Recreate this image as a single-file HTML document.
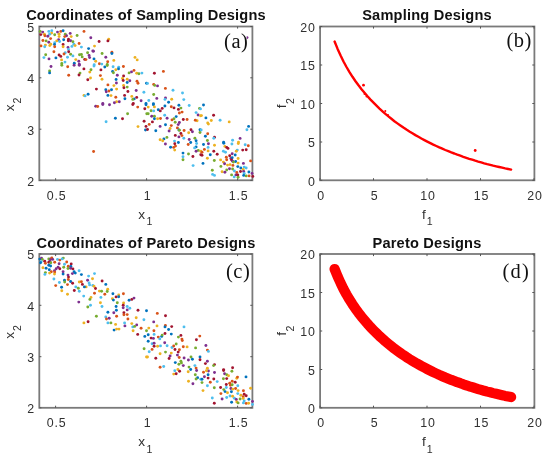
<!DOCTYPE html><html><head><meta charset="utf-8"><title>Sampling and Pareto Designs</title>
<style>html,body{margin:0;padding:0;background:#fff;}svg{display:block;}text{font-family:"Liberation Sans",Arial,sans-serif;fill:#303030;}.t{font-weight:bold;font-size:14.6px;letter-spacing:0.2px;fill:#111;}.k{font-size:12.4px;letter-spacing:0.9px;}.l{font-size:13.6px;}.s{font-size:10.6px;}.p{font-family:"Liberation Serif","Times New Roman",serif;font-size:20.5px;letter-spacing:0.5px;fill:#111;}</style></head><body>
<svg width="550" height="461" viewBox="0 0 550 461">
<rect width="550" height="461" fill="#fff"/>
<rect x="39.3" y="26.5" width="213.10000000000002" height="153.8" fill="none" stroke="#7a7a7a" stroke-width="1.8"/>
<path d="M55.6 180.3v-2.1M55.6 26.5v2.1" stroke="#555" stroke-width="1"/>
 <text class="k" x="56.7" y="199.8" text-anchor="middle">0.5</text>
<path d="M146.6 180.3v-2.1M146.6 26.5v2.1" stroke="#555" stroke-width="1"/>
 <text class="k" x="147.7" y="199.8" text-anchor="middle">1</text>
<path d="M237.6 180.3v-2.1M237.6 26.5v2.1" stroke="#555" stroke-width="1"/>
 <text class="k" x="238.7" y="199.8" text-anchor="middle">1.5</text>
<path d="M39.3 26.5h2.1M252.4 26.5h-2.1" stroke="#555" stroke-width="1"/>
<text class="k" x="35.099999999999994" y="31.8" text-anchor="end">5</text>
<path d="M39.3 77.8h2.1M252.4 77.8h-2.1" stroke="#555" stroke-width="1"/>
<text class="k" x="35.099999999999994" y="83.1" text-anchor="end">4</text>
<path d="M39.3 129.2h2.1M252.4 129.2h-2.1" stroke="#555" stroke-width="1"/>
<text class="k" x="35.099999999999994" y="134.5" text-anchor="end">3</text>
<path d="M39.3 180.3h2.1M252.4 180.3h-2.1" stroke="#555" stroke-width="1"/>
<text class="k" x="35.099999999999994" y="185.60000000000002" text-anchor="end">2</text>
<text class="t" x="146" y="20.1" text-anchor="middle">Coordinates of Sampling Designs</text>
<text class="l" x="145.15" y="218.9" text-anchor="end">x</text><text class="s" x="146.45" y="225.4">1</text>
<g transform="translate(13.6 103.4) rotate(-90)"><text class="l" x="-1" y="0" text-anchor="end">x</text><text class="s" x="0.0" y="7.2">2</text></g>
<circle cx="40.2" cy="31.4" r="1.45" fill="#77AC30"/>
<circle cx="42.7" cy="32.1" r="1.45" fill="#7E2F8E"/>
<circle cx="40.8" cy="34.6" r="1.45" fill="#A2142F"/>
<circle cx="44.4" cy="34.3" r="1.45" fill="#EDB120"/>
<circle cx="44.9" cy="35.8" r="1.45" fill="#D95319"/>
<circle cx="48.8" cy="31.4" r="1.45" fill="#4DBEEE"/>
<circle cx="51.8" cy="30.7" r="1.45" fill="#4DBEEE"/>
<circle cx="51.6" cy="33.1" r="1.45" fill="#EDB120"/>
<circle cx="49.6" cy="34.3" r="1.45" fill="#4DBEEE"/>
<circle cx="47.8" cy="36.3" r="1.45" fill="#7E2F8E"/>
<circle cx="50.6" cy="38.6" r="1.45" fill="#D95319"/>
<circle cx="54.7" cy="34.8" r="1.45" fill="#77AC30"/>
<circle cx="57.5" cy="32.1" r="1.45" fill="#7E2F8E"/>
<circle cx="60.8" cy="31.4" r="1.45" fill="#D95319"/>
<circle cx="63.1" cy="30.7" r="1.45" fill="#0072BD"/>
<circle cx="59.1" cy="34.3" r="1.45" fill="#EDB120"/>
<circle cx="59.1" cy="36.6" r="1.45" fill="#EDB120"/>
<circle cx="58.6" cy="39.7" r="1.45" fill="#7E2F8E"/>
<circle cx="59.6" cy="41.5" r="1.45" fill="#4DBEEE"/>
<circle cx="56.7" cy="40.9" r="1.45" fill="#EDB120"/>
<circle cx="42.9" cy="40.5" r="1.45" fill="#D95319"/>
<circle cx="46.1" cy="40.9" r="1.45" fill="#77AC30"/>
<circle cx="48.8" cy="42.2" r="1.45" fill="#7E2F8E"/>
<circle cx="50.8" cy="44.2" r="1.45" fill="#EDB120"/>
<circle cx="49.8" cy="45.6" r="1.45" fill="#EDB120"/>
<circle cx="54.7" cy="42.7" r="1.45" fill="#4DBEEE"/>
<circle cx="54.5" cy="44.5" r="1.45" fill="#0072BD"/>
<circle cx="54.7" cy="46.8" r="1.45" fill="#D95319"/>
<circle cx="41.0" cy="45.9" r="1.45" fill="#D95319"/>
<circle cx="45.4" cy="45.1" r="1.45" fill="#EDB120"/>
<circle cx="44.7" cy="46.8" r="1.45" fill="#4DBEEE"/>
<circle cx="65.3" cy="34.3" r="1.45" fill="#77AC30"/>
<circle cx="66.5" cy="35.8" r="1.45" fill="#7E2F8E"/>
<circle cx="64.7" cy="36.6" r="1.45" fill="#D95319"/>
<circle cx="63.7" cy="39.7" r="1.45" fill="#0072BD"/>
<circle cx="70.2" cy="33.4" r="1.45" fill="#7E2F8E"/>
<circle cx="71.2" cy="36.6" r="1.45" fill="#EDB120"/>
<circle cx="68.5" cy="39.3" r="1.45" fill="#A2142F"/>
<circle cx="68.3" cy="40.7" r="1.45" fill="#A2142F"/>
<circle cx="70.6" cy="40.7" r="1.45" fill="#7E2F8E"/>
<circle cx="72.9" cy="41.7" r="1.45" fill="#77AC30"/>
<circle cx="77.1" cy="35.5" r="1.45" fill="#77AC30"/>
<circle cx="84.0" cy="31.4" r="1.45" fill="#D95319"/>
<circle cx="90.8" cy="37.8" r="1.45" fill="#7E2F8E"/>
<circle cx="79.1" cy="43.5" r="1.45" fill="#D95319"/>
<circle cx="73.9" cy="44.2" r="1.45" fill="#4DBEEE"/>
<circle cx="75.1" cy="45.6" r="1.45" fill="#EDB120"/>
<circle cx="71.9" cy="46.4" r="1.45" fill="#4DBEEE"/>
<circle cx="81.4" cy="47.1" r="1.45" fill="#4DBEEE"/>
<circle cx="63.1" cy="44.5" r="1.45" fill="#A2142F"/>
<circle cx="63.1" cy="46.8" r="1.45" fill="#EDB120"/>
<circle cx="68.0" cy="47.4" r="1.45" fill="#7E2F8E"/>
<circle cx="68.5" cy="49.4" r="1.45" fill="#4DBEEE"/>
<circle cx="68.7" cy="51.7" r="1.45" fill="#A2142F"/>
<circle cx="65.3" cy="52.7" r="1.45" fill="#4DBEEE"/>
<circle cx="64.0" cy="54.0" r="1.45" fill="#D95319"/>
<circle cx="53.9" cy="51.7" r="1.45" fill="#D95319"/>
<circle cx="45.7" cy="54.7" r="1.45" fill="#77AC30"/>
<circle cx="43.9" cy="57.6" r="1.45" fill="#4DBEEE"/>
<circle cx="49.0" cy="58.9" r="1.45" fill="#7E2F8E"/>
<circle cx="55.9" cy="57.9" r="1.45" fill="#0072BD"/>
<circle cx="59.1" cy="55.0" r="1.45" fill="#A2142F"/>
<circle cx="60.8" cy="56.4" r="1.45" fill="#A2142F"/>
<circle cx="61.6" cy="59.9" r="1.45" fill="#EDB120"/>
<circle cx="67.5" cy="57.2" r="1.45" fill="#4DBEEE"/>
<circle cx="70.6" cy="54.3" r="1.45" fill="#77AC30"/>
<circle cx="72.9" cy="55.9" r="1.45" fill="#4DBEEE"/>
<circle cx="61.8" cy="63.5" r="1.45" fill="#77AC30"/>
<circle cx="65.0" cy="62.1" r="1.45" fill="#4DBEEE"/>
<circle cx="75.8" cy="59.6" r="1.45" fill="#EDB120"/>
<circle cx="78.8" cy="61.3" r="1.45" fill="#7E2F8E"/>
<circle cx="74.3" cy="63.3" r="1.45" fill="#0072BD"/>
<circle cx="79.3" cy="64.3" r="1.45" fill="#7E2F8E"/>
<circle cx="79.5" cy="54.7" r="1.45" fill="#77AC30"/>
<circle cx="81.4" cy="54.5" r="1.45" fill="#77AC30"/>
<circle cx="82.2" cy="56.9" r="1.45" fill="#77AC30"/>
<circle cx="84.7" cy="59.4" r="1.45" fill="#A2142F"/>
<circle cx="85.9" cy="59.6" r="1.45" fill="#D95319"/>
<circle cx="87.6" cy="52.7" r="1.45" fill="#77AC30"/>
<circle cx="89.1" cy="55.5" r="1.45" fill="#7E2F8E"/>
<circle cx="89.6" cy="57.6" r="1.45" fill="#7E2F8E"/>
<circle cx="88.6" cy="48.6" r="1.45" fill="#0072BD"/>
<circle cx="92.8" cy="51.0" r="1.45" fill="#7E2F8E"/>
<circle cx="99.1" cy="41.5" r="1.45" fill="#A2142F"/>
<circle cx="108.7" cy="39.3" r="1.45" fill="#EDB120"/>
<circle cx="107.9" cy="40.9" r="1.45" fill="#A2142F"/>
<circle cx="94.5" cy="46.1" r="1.45" fill="#EDB120"/>
<circle cx="93.5" cy="51.3" r="1.45" fill="#7E2F8E"/>
<circle cx="102.1" cy="53.5" r="1.45" fill="#77AC30"/>
<circle cx="111.9" cy="52.3" r="1.45" fill="#D95319"/>
<circle cx="111.9" cy="53.5" r="1.45" fill="#0072BD"/>
<circle cx="105.8" cy="57.2" r="1.45" fill="#7E2F8E"/>
<circle cx="94.0" cy="58.9" r="1.45" fill="#0072BD"/>
<circle cx="95.7" cy="61.3" r="1.45" fill="#EDB120"/>
<circle cx="113.8" cy="60.4" r="1.45" fill="#EDB120"/>
<circle cx="107.7" cy="61.8" r="1.45" fill="#D95319"/>
<circle cx="99.4" cy="63.8" r="1.45" fill="#D95319"/>
<circle cx="101.8" cy="64.1" r="1.45" fill="#4DBEEE"/>
<circle cx="107.2" cy="64.5" r="1.45" fill="#77AC30"/>
<circle cx="135.0" cy="57.4" r="1.45" fill="#EDB120"/>
<circle cx="137.2" cy="59.9" r="1.45" fill="#EDB120"/>
<circle cx="94.2" cy="64.8" r="1.45" fill="#4DBEEE"/>
<circle cx="51.0" cy="66.5" r="1.45" fill="#7E2F8E"/>
<circle cx="49.6" cy="70.9" r="1.45" fill="#77AC30"/>
<circle cx="49.6" cy="72.9" r="1.45" fill="#0072BD"/>
<circle cx="67.7" cy="66.8" r="1.45" fill="#D95319"/>
<circle cx="68.7" cy="75.3" r="1.45" fill="#D95319"/>
<circle cx="74.1" cy="65.3" r="1.45" fill="#7E2F8E"/>
<circle cx="79.3" cy="65.3" r="1.45" fill="#7E2F8E"/>
<circle cx="83.9" cy="68.9" r="1.45" fill="#A2142F"/>
<circle cx="80.0" cy="73.1" r="1.45" fill="#77AC30"/>
<circle cx="79.0" cy="75.0" r="1.45" fill="#A2142F"/>
<circle cx="91.0" cy="69.7" r="1.45" fill="#77AC30"/>
<circle cx="89.8" cy="72.1" r="1.45" fill="#EDB120"/>
<circle cx="90.5" cy="78.0" r="1.45" fill="#EDB120"/>
<circle cx="87.8" cy="79.7" r="1.45" fill="#A2142F"/>
<circle cx="84.0" cy="95.4" r="1.45" fill="#EDB120"/>
<circle cx="85.1" cy="95.9" r="1.45" fill="#4DBEEE"/>
<circle cx="88.1" cy="94.3" r="1.45" fill="#0072BD"/>
<circle cx="61.8" cy="65.2" r="1.45" fill="#77AC30"/>
<circle cx="94.0" cy="66.0" r="1.45" fill="#4DBEEE"/>
<circle cx="104.8" cy="67.0" r="1.45" fill="#0072BD"/>
<circle cx="107.2" cy="65.5" r="1.45" fill="#77AC30"/>
<circle cx="113.1" cy="66.8" r="1.45" fill="#4DBEEE"/>
<circle cx="118.7" cy="67.2" r="1.45" fill="#4DBEEE"/>
<circle cx="118.5" cy="68.9" r="1.45" fill="#0072BD"/>
<circle cx="115.8" cy="69.7" r="1.45" fill="#EDB120"/>
<circle cx="123.4" cy="66.5" r="1.45" fill="#D95319"/>
<circle cx="100.9" cy="69.9" r="1.45" fill="#A2142F"/>
<circle cx="112.6" cy="71.4" r="1.45" fill="#0072BD"/>
<circle cx="113.4" cy="72.7" r="1.45" fill="#77AC30"/>
<circle cx="100.4" cy="75.6" r="1.45" fill="#D95319"/>
<circle cx="102.0" cy="79.2" r="1.45" fill="#EDB120"/>
<circle cx="117.3" cy="75.3" r="1.45" fill="#7E2F8E"/>
<circle cx="116.1" cy="79.5" r="1.45" fill="#0072BD"/>
<circle cx="116.4" cy="83.0" r="1.45" fill="#7E2F8E"/>
<circle cx="113.9" cy="85.6" r="1.45" fill="#EDB120"/>
<circle cx="107.9" cy="84.9" r="1.45" fill="#D95319"/>
<circle cx="96.4" cy="89.1" r="1.45" fill="#A2142F"/>
<circle cx="105.8" cy="89.7" r="1.45" fill="#0072BD"/>
<circle cx="106.3" cy="91.7" r="1.45" fill="#7E2F8E"/>
<circle cx="109.0" cy="91.0" r="1.45" fill="#D95319"/>
<circle cx="111.5" cy="89.7" r="1.45" fill="#0072BD"/>
<circle cx="116.6" cy="89.1" r="1.45" fill="#EDB120"/>
<circle cx="107.9" cy="95.4" r="1.45" fill="#0072BD"/>
<circle cx="111.0" cy="95.6" r="1.45" fill="#EDB120"/>
<circle cx="115.8" cy="97.2" r="1.45" fill="#D95319"/>
<circle cx="123.6" cy="76.0" r="1.45" fill="#A2142F"/>
<circle cx="122.5" cy="78.5" r="1.45" fill="#EDB120"/>
<circle cx="123.2" cy="80.5" r="1.45" fill="#A2142F"/>
<circle cx="127.2" cy="79.2" r="1.45" fill="#EDB120"/>
<circle cx="129.8" cy="80.7" r="1.45" fill="#7E2F8E"/>
<circle cx="127.2" cy="82.5" r="1.45" fill="#0072BD"/>
<circle cx="123.6" cy="85.4" r="1.45" fill="#EDB120"/>
<circle cx="123.9" cy="87.8" r="1.45" fill="#A2142F"/>
<circle cx="127.2" cy="87.1" r="1.45" fill="#77AC30"/>
<circle cx="127.9" cy="91.5" r="1.45" fill="#A2142F"/>
<circle cx="124.6" cy="95.4" r="1.45" fill="#A2142F"/>
<circle cx="124.9" cy="98.7" r="1.45" fill="#0072BD"/>
<circle cx="129.1" cy="72.9" r="1.45" fill="#77AC30"/>
<circle cx="131.5" cy="71.9" r="1.45" fill="#7E2F8E"/>
<circle cx="134.0" cy="70.4" r="1.45" fill="#D95319"/>
<circle cx="136.7" cy="73.3" r="1.45" fill="#EDB120"/>
<circle cx="138.9" cy="73.8" r="1.45" fill="#77AC30"/>
<circle cx="141.9" cy="73.1" r="1.45" fill="#4DBEEE"/>
<circle cx="137.0" cy="81.2" r="1.45" fill="#D95319"/>
<circle cx="138.0" cy="83.2" r="1.45" fill="#D95319"/>
<circle cx="146.5" cy="83.2" r="1.45" fill="#0072BD"/>
<circle cx="136.2" cy="90.5" r="1.45" fill="#7E2F8E"/>
<circle cx="143.9" cy="92.3" r="1.45" fill="#4DBEEE"/>
<circle cx="131.8" cy="96.4" r="1.45" fill="#EDB120"/>
<circle cx="136.7" cy="97.4" r="1.45" fill="#A2142F"/>
<circle cx="134.2" cy="98.9" r="1.45" fill="#0072BD"/>
<circle cx="132.8" cy="99.4" r="1.45" fill="#77AC30"/>
<circle cx="141.1" cy="100.8" r="1.45" fill="#7E2F8E"/>
<circle cx="116.6" cy="101.8" r="1.45" fill="#EDB120"/>
<circle cx="114.4" cy="102.8" r="1.45" fill="#7E2F8E"/>
<circle cx="119.3" cy="101.8" r="1.45" fill="#7E2F8E"/>
<circle cx="102.8" cy="103.5" r="1.45" fill="#7E2F8E"/>
<circle cx="133.3" cy="103.5" r="1.45" fill="#A2142F"/>
<circle cx="146.0" cy="103.5" r="1.45" fill="#0072BD"/>
<circle cx="154.4" cy="73.3" r="1.45" fill="#A2142F"/>
<circle cx="163.4" cy="71.4" r="1.45" fill="#D95319"/>
<circle cx="147.5" cy="83.4" r="1.45" fill="#4DBEEE"/>
<circle cx="153.7" cy="84.4" r="1.45" fill="#D95319"/>
<circle cx="154.7" cy="85.4" r="1.45" fill="#77AC30"/>
<circle cx="157.5" cy="85.9" r="1.45" fill="#7E2F8E"/>
<circle cx="165.4" cy="88.4" r="1.45" fill="#D95319"/>
<circle cx="173.0" cy="90.3" r="1.45" fill="#4DBEEE"/>
<circle cx="182.5" cy="93.0" r="1.45" fill="#4DBEEE"/>
<circle cx="153.7" cy="94.5" r="1.45" fill="#77AC30"/>
<circle cx="156.8" cy="98.4" r="1.45" fill="#7E2F8E"/>
<circle cx="165.5" cy="97.9" r="1.45" fill="#7E2F8E"/>
<circle cx="165.0" cy="99.4" r="1.45" fill="#4DBEEE"/>
<circle cx="171.7" cy="99.2" r="1.45" fill="#EDB120"/>
<circle cx="183.8" cy="99.6" r="1.45" fill="#4DBEEE"/>
<circle cx="148.8" cy="100.5" r="1.45" fill="#4DBEEE"/>
<circle cx="168.6" cy="102.3" r="1.45" fill="#0072BD"/>
<circle cx="153.4" cy="103.8" r="1.45" fill="#0072BD"/>
<circle cx="95.7" cy="106.2" r="1.45" fill="#7E2F8E"/>
<circle cx="97.7" cy="106.5" r="1.45" fill="#D95319"/>
<circle cx="102.8" cy="104.5" r="1.45" fill="#7E2F8E"/>
<circle cx="109.5" cy="104.8" r="1.45" fill="#7E2F8E"/>
<circle cx="132.8" cy="104.5" r="1.45" fill="#A2142F"/>
<circle cx="137.7" cy="107.1" r="1.45" fill="#D95319"/>
<circle cx="144.8" cy="108.7" r="1.45" fill="#A2142F"/>
<circle cx="146.0" cy="104.8" r="1.45" fill="#0072BD"/>
<circle cx="127.6" cy="113.8" r="1.45" fill="#77AC30"/>
<circle cx="115.4" cy="118.2" r="1.45" fill="#0072BD"/>
<circle cx="122.5" cy="118.7" r="1.45" fill="#A2142F"/>
<circle cx="106.1" cy="121.7" r="1.45" fill="#4DBEEE"/>
<circle cx="144.1" cy="121.2" r="1.45" fill="#A2142F"/>
<circle cx="138.0" cy="126.6" r="1.45" fill="#EDB120"/>
<circle cx="146.0" cy="126.4" r="1.45" fill="#A2142F"/>
<circle cx="145.5" cy="130.0" r="1.45" fill="#0072BD"/>
<circle cx="146.8" cy="113.8" r="1.45" fill="#77AC30"/>
<circle cx="153.4" cy="104.8" r="1.45" fill="#0072BD"/>
<circle cx="148.2" cy="107.1" r="1.45" fill="#EDB120"/>
<circle cx="154.4" cy="106.9" r="1.45" fill="#EDB120"/>
<circle cx="151.1" cy="110.7" r="1.45" fill="#77AC30"/>
<circle cx="153.7" cy="110.9" r="1.45" fill="#4DBEEE"/>
<circle cx="148.2" cy="113.8" r="1.45" fill="#77AC30"/>
<circle cx="151.7" cy="116.3" r="1.45" fill="#7E2F8E"/>
<circle cx="154.4" cy="116.3" r="1.45" fill="#77AC30"/>
<circle cx="154.4" cy="118.7" r="1.45" fill="#0072BD"/>
<circle cx="157.6" cy="118.7" r="1.45" fill="#EDB120"/>
<circle cx="160.5" cy="118.5" r="1.45" fill="#D95319"/>
<circle cx="152.4" cy="121.9" r="1.45" fill="#A2142F"/>
<circle cx="149.2" cy="124.4" r="1.45" fill="#D95319"/>
<circle cx="147.5" cy="129.5" r="1.45" fill="#A2142F"/>
<circle cx="155.8" cy="130.7" r="1.45" fill="#0072BD"/>
<circle cx="160.1" cy="126.4" r="1.45" fill="#7E2F8E"/>
<circle cx="165.5" cy="124.8" r="1.45" fill="#0072BD"/>
<circle cx="164.7" cy="115.3" r="1.45" fill="#4DBEEE"/>
<circle cx="167.1" cy="118.2" r="1.45" fill="#7E2F8E"/>
<circle cx="158.3" cy="109.7" r="1.45" fill="#0072BD"/>
<circle cx="160.3" cy="110.9" r="1.45" fill="#A2142F"/>
<circle cx="162.2" cy="108.4" r="1.45" fill="#A2142F"/>
<circle cx="164.9" cy="106.0" r="1.45" fill="#0072BD"/>
<circle cx="171.3" cy="106.7" r="1.45" fill="#D95319"/>
<circle cx="174.0" cy="107.9" r="1.45" fill="#A2142F"/>
<circle cx="178.9" cy="105.2" r="1.45" fill="#0072BD"/>
<circle cx="180.9" cy="108.1" r="1.45" fill="#77AC30"/>
<circle cx="178.4" cy="109.4" r="1.45" fill="#A2142F"/>
<circle cx="179.4" cy="113.0" r="1.45" fill="#D95319"/>
<circle cx="182.1" cy="112.1" r="1.45" fill="#D95319"/>
<circle cx="189.2" cy="105.5" r="1.45" fill="#4DBEEE"/>
<circle cx="176.2" cy="116.6" r="1.45" fill="#0072BD"/>
<circle cx="174.0" cy="118.7" r="1.45" fill="#77AC30"/>
<circle cx="172.0" cy="119.9" r="1.45" fill="#D95319"/>
<circle cx="175.2" cy="122.2" r="1.45" fill="#77AC30"/>
<circle cx="183.3" cy="119.5" r="1.45" fill="#A2142F"/>
<circle cx="187.1" cy="119.5" r="1.45" fill="#D95319"/>
<circle cx="179.4" cy="122.5" r="1.45" fill="#7E2F8E"/>
<circle cx="178.2" cy="124.6" r="1.45" fill="#7E2F8E"/>
<circle cx="171.3" cy="125.6" r="1.45" fill="#D95319"/>
<circle cx="170.1" cy="128.5" r="1.45" fill="#EDB120"/>
<circle cx="169.1" cy="131.0" r="1.45" fill="#7E2F8E"/>
<circle cx="177.4" cy="127.9" r="1.45" fill="#D95319"/>
<circle cx="178.9" cy="130.0" r="1.45" fill="#0072BD"/>
<circle cx="179.4" cy="130.3" r="1.45" fill="#77AC30"/>
<circle cx="184.1" cy="130.5" r="1.45" fill="#D95319"/>
<circle cx="188.7" cy="132.7" r="1.45" fill="#EDB120"/>
<circle cx="191.0" cy="129.7" r="1.45" fill="#A2142F"/>
<circle cx="192.4" cy="131.7" r="1.45" fill="#7E2F8E"/>
<circle cx="180.9" cy="133.5" r="1.45" fill="#A2142F"/>
<circle cx="181.9" cy="135.6" r="1.45" fill="#D95319"/>
<circle cx="178.9" cy="136.9" r="1.45" fill="#7E2F8E"/>
<circle cx="175.3" cy="135.4" r="1.45" fill="#A2142F"/>
<circle cx="183.8" cy="138.2" r="1.45" fill="#4DBEEE"/>
<circle cx="189.2" cy="139.5" r="1.45" fill="#7E2F8E"/>
<circle cx="194.9" cy="138.2" r="1.45" fill="#77AC30"/>
<circle cx="196.1" cy="140.8" r="1.45" fill="#0072BD"/>
<circle cx="166.9" cy="137.4" r="1.45" fill="#77AC30"/>
<circle cx="163.9" cy="138.9" r="1.45" fill="#0072BD"/>
<circle cx="160.1" cy="139.8" r="1.45" fill="#EDB120"/>
<circle cx="162.7" cy="140.8" r="1.45" fill="#EDB120"/>
<circle cx="174.5" cy="141.1" r="1.45" fill="#4DBEEE"/>
<circle cx="178.4" cy="142.5" r="1.45" fill="#0072BD"/>
<circle cx="200.0" cy="129.7" r="1.45" fill="#0072BD"/>
<circle cx="200.0" cy="132.5" r="1.45" fill="#77AC30"/>
<circle cx="197.1" cy="120.7" r="1.45" fill="#EDB120"/>
<circle cx="195.3" cy="120.2" r="1.45" fill="#D95319"/>
<circle cx="198.1" cy="115.0" r="1.45" fill="#7E2F8E"/>
<circle cx="200.5" cy="115.8" r="1.45" fill="#EDB120"/>
<circle cx="196.1" cy="112.6" r="1.45" fill="#4DBEEE"/>
<circle cx="199.5" cy="108.4" r="1.45" fill="#77AC30"/>
<circle cx="200.5" cy="108.9" r="1.45" fill="#4DBEEE"/>
<circle cx="190.7" cy="142.5" r="1.45" fill="#0072BD"/>
<circle cx="203.5" cy="105.0" r="1.45" fill="#0072BD"/>
<circle cx="201.5" cy="115.6" r="1.45" fill="#EDB120"/>
<circle cx="213.6" cy="115.3" r="1.45" fill="#A2142F"/>
<circle cx="205.9" cy="117.9" r="1.45" fill="#0072BD"/>
<circle cx="211.3" cy="120.5" r="1.45" fill="#EDB120"/>
<circle cx="207.7" cy="122.9" r="1.45" fill="#EDB120"/>
<circle cx="208.4" cy="124.1" r="1.45" fill="#EDB120"/>
<circle cx="220.1" cy="120.2" r="1.45" fill="#4DBEEE"/>
<circle cx="229.2" cy="121.9" r="1.45" fill="#EDB120"/>
<circle cx="248.6" cy="126.4" r="1.45" fill="#0072BD"/>
<circle cx="246.9" cy="129.7" r="1.45" fill="#4DBEEE"/>
<circle cx="207.7" cy="133.7" r="1.45" fill="#D95319"/>
<circle cx="205.4" cy="136.2" r="1.45" fill="#0072BD"/>
<circle cx="214.5" cy="137.2" r="1.45" fill="#A2142F"/>
<circle cx="213.8" cy="138.2" r="1.45" fill="#4DBEEE"/>
<circle cx="207.4" cy="140.5" r="1.45" fill="#77AC30"/>
<circle cx="232.6" cy="140.3" r="1.45" fill="#4DBEEE"/>
<circle cx="240.1" cy="138.4" r="1.45" fill="#7E2F8E"/>
<circle cx="238.5" cy="142.1" r="1.45" fill="#EDB120"/>
<circle cx="223.6" cy="142.3" r="1.45" fill="#0072BD"/>
<circle cx="201.2" cy="130.0" r="1.45" fill="#4DBEEE"/>
<circle cx="165.4" cy="144.0" r="1.45" fill="#7E2F8E"/>
<circle cx="174.8" cy="143.8" r="1.45" fill="#A2142F"/>
<circle cx="175.5" cy="146.1" r="1.45" fill="#D95319"/>
<circle cx="173.7" cy="147.4" r="1.45" fill="#D95319"/>
<circle cx="170.6" cy="147.2" r="1.45" fill="#0072BD"/>
<circle cx="174.7" cy="150.1" r="1.45" fill="#EDB120"/>
<circle cx="188.2" cy="144.5" r="1.45" fill="#D95319"/>
<circle cx="196.6" cy="143.5" r="1.45" fill="#4DBEEE"/>
<circle cx="196.1" cy="146.9" r="1.45" fill="#0072BD"/>
<circle cx="194.6" cy="147.9" r="1.45" fill="#4DBEEE"/>
<circle cx="198.3" cy="150.4" r="1.45" fill="#77AC30"/>
<circle cx="196.1" cy="151.3" r="1.45" fill="#7E2F8E"/>
<circle cx="183.0" cy="153.1" r="1.45" fill="#0072BD"/>
<circle cx="183.0" cy="156.7" r="1.45" fill="#4DBEEE"/>
<circle cx="183.0" cy="159.7" r="1.45" fill="#77AC30"/>
<circle cx="188.5" cy="154.0" r="1.45" fill="#77AC30"/>
<circle cx="192.9" cy="156.5" r="1.45" fill="#A2142F"/>
<circle cx="193.1" cy="165.6" r="1.45" fill="#4DBEEE"/>
<circle cx="200.8" cy="154.8" r="1.45" fill="#A2142F"/>
<circle cx="200.8" cy="151.3" r="1.45" fill="#EDB120"/>
<circle cx="203.5" cy="144.5" r="1.45" fill="#0072BD"/>
<circle cx="208.4" cy="143.8" r="1.45" fill="#7E2F8E"/>
<circle cx="208.1" cy="147.4" r="1.45" fill="#4DBEEE"/>
<circle cx="214.5" cy="145.2" r="1.45" fill="#EDB120"/>
<circle cx="204.4" cy="149.4" r="1.45" fill="#D95319"/>
<circle cx="208.1" cy="150.9" r="1.45" fill="#EDB120"/>
<circle cx="202.0" cy="152.3" r="1.45" fill="#D95319"/>
<circle cx="202.0" cy="155.3" r="1.45" fill="#A2142F"/>
<circle cx="210.3" cy="154.8" r="1.45" fill="#0072BD"/>
<circle cx="213.8" cy="151.3" r="1.45" fill="#A2142F"/>
<circle cx="217.2" cy="154.3" r="1.45" fill="#A2142F"/>
<circle cx="207.4" cy="158.2" r="1.45" fill="#EDB120"/>
<circle cx="203.0" cy="163.4" r="1.45" fill="#0072BD"/>
<circle cx="214.3" cy="160.5" r="1.45" fill="#77AC30"/>
<circle cx="220.6" cy="159.9" r="1.45" fill="#EDB120"/>
<circle cx="220.9" cy="166.4" r="1.45" fill="#77AC30"/>
<circle cx="212.3" cy="170.3" r="1.45" fill="#77AC30"/>
<circle cx="212.6" cy="174.4" r="1.45" fill="#4DBEEE"/>
<circle cx="214.5" cy="175.4" r="1.45" fill="#4DBEEE"/>
<circle cx="222.1" cy="171.7" r="1.45" fill="#EDB120"/>
<circle cx="224.9" cy="172.3" r="1.45" fill="#7E2F8E"/>
<circle cx="226.7" cy="170.0" r="1.45" fill="#77AC30"/>
<circle cx="224.9" cy="146.4" r="1.45" fill="#EDB120"/>
<circle cx="226.7" cy="147.4" r="1.45" fill="#A2142F"/>
<circle cx="228.0" cy="148.4" r="1.45" fill="#A2142F"/>
<circle cx="223.4" cy="151.3" r="1.45" fill="#4DBEEE"/>
<circle cx="225.5" cy="152.3" r="1.45" fill="#4DBEEE"/>
<circle cx="232.2" cy="153.8" r="1.45" fill="#7E2F8E"/>
<circle cx="235.2" cy="155.0" r="1.45" fill="#0072BD"/>
<circle cx="229.7" cy="155.8" r="1.45" fill="#A2142F"/>
<circle cx="226.3" cy="157.2" r="1.45" fill="#D95319"/>
<circle cx="226.7" cy="159.7" r="1.45" fill="#D95319"/>
<circle cx="230.9" cy="158.5" r="1.45" fill="#7E2F8E"/>
<circle cx="232.2" cy="157.7" r="1.45" fill="#0072BD"/>
<circle cx="231.6" cy="159.9" r="1.45" fill="#A2142F"/>
<circle cx="232.6" cy="161.2" r="1.45" fill="#7E2F8E"/>
<circle cx="235.6" cy="161.5" r="1.45" fill="#0072BD"/>
<circle cx="233.4" cy="162.1" r="1.45" fill="#77AC30"/>
<circle cx="238.1" cy="158.5" r="1.45" fill="#EDB120"/>
<circle cx="238.1" cy="163.1" r="1.45" fill="#EDB120"/>
<circle cx="237.3" cy="150.1" r="1.45" fill="#4DBEEE"/>
<circle cx="236.3" cy="151.3" r="1.45" fill="#EDB120"/>
<circle cx="242.7" cy="150.1" r="1.45" fill="#A2142F"/>
<circle cx="246.2" cy="149.7" r="1.45" fill="#A2142F"/>
<circle cx="245.2" cy="144.8" r="1.45" fill="#4DBEEE"/>
<circle cx="248.3" cy="145.7" r="1.45" fill="#D95319"/>
<circle cx="231.9" cy="144.0" r="1.45" fill="#4DBEEE"/>
<circle cx="250.6" cy="160.9" r="1.45" fill="#D95319"/>
<circle cx="243.4" cy="163.4" r="1.45" fill="#7E2F8E"/>
<circle cx="223.4" cy="162.1" r="1.45" fill="#EDB120"/>
<circle cx="224.6" cy="163.8" r="1.45" fill="#7E2F8E"/>
<circle cx="227.5" cy="165.1" r="1.45" fill="#EDB120"/>
<circle cx="230.0" cy="164.6" r="1.45" fill="#EDB120"/>
<circle cx="232.9" cy="165.4" r="1.45" fill="#D95319"/>
<circle cx="229.5" cy="168.7" r="1.45" fill="#7E2F8E"/>
<circle cx="232.6" cy="169.0" r="1.45" fill="#77AC30"/>
<circle cx="234.4" cy="171.0" r="1.45" fill="#4DBEEE"/>
<circle cx="237.8" cy="166.6" r="1.45" fill="#0072BD"/>
<circle cx="240.8" cy="168.0" r="1.45" fill="#0072BD"/>
<circle cx="244.2" cy="167.1" r="1.45" fill="#4DBEEE"/>
<circle cx="246.2" cy="168.0" r="1.45" fill="#4DBEEE"/>
<circle cx="243.2" cy="169.5" r="1.45" fill="#EDB120"/>
<circle cx="243.7" cy="171.5" r="1.45" fill="#7E2F8E"/>
<circle cx="240.5" cy="171.5" r="1.45" fill="#A2142F"/>
<circle cx="236.8" cy="172.5" r="1.45" fill="#D95319"/>
<circle cx="244.2" cy="173.4" r="1.45" fill="#4DBEEE"/>
<circle cx="248.9" cy="172.0" r="1.45" fill="#0072BD"/>
<circle cx="252.1" cy="173.4" r="1.45" fill="#7E2F8E"/>
<circle cx="231.6" cy="174.9" r="1.45" fill="#77AC30"/>
<circle cx="235.9" cy="174.9" r="1.45" fill="#7E2F8E"/>
<circle cx="237.8" cy="174.9" r="1.45" fill="#A2142F"/>
<circle cx="234.2" cy="176.9" r="1.45" fill="#4DBEEE"/>
<circle cx="238.1" cy="177.2" r="1.45" fill="#77AC30"/>
<circle cx="243.7" cy="175.4" r="1.45" fill="#0072BD"/>
<circle cx="246.2" cy="175.9" r="1.45" fill="#77AC30"/>
<circle cx="249.1" cy="175.9" r="1.45" fill="#D95319"/>
<circle cx="252.8" cy="176.4" r="1.45" fill="#A2142F"/>
<circle cx="238.3" cy="143.5" r="1.45" fill="#EDB120"/>
<circle cx="223.8" cy="143.3" r="1.45" fill="#0072BD"/>
<circle cx="93.6" cy="151.5" r="1.45" fill="#D95319"/>
<circle cx="247.0" cy="37.6" r="1.45" fill="#7E2F8E"/>
<rect x="219" y="30.5" width="27.6" height="26" fill="#fff"/>
<text class="p" style="letter-spacing:0.5px" x="236.2" y="48.4" text-anchor="middle">(a)</text>
<rect x="320.1" y="26.5" width="214.29999999999995" height="153.8" fill="none" stroke="#7a7a7a" stroke-width="1.8"/>
<path d="M320 180.3v-2.1M320 26.5v2.1" stroke="#555" stroke-width="1"/>
 <text class="k" x="321.1" y="199.8" text-anchor="middle">0</text>
<path d="M373.5 180.3v-2.1M373.5 26.5v2.1" stroke="#555" stroke-width="1"/>
 <text class="k" x="374.6" y="199.8" text-anchor="middle">5</text>
<path d="M427 180.3v-2.1M427 26.5v2.1" stroke="#555" stroke-width="1"/>
 <text class="k" x="428.1" y="199.8" text-anchor="middle">10</text>
<path d="M480.5 180.3v-2.1M480.5 26.5v2.1" stroke="#555" stroke-width="1"/>
 <text class="k" x="481.6" y="199.8" text-anchor="middle">15</text>
<path d="M534 180.3v-2.1M534 26.5v2.1" stroke="#555" stroke-width="1"/>
 <text class="k" x="535.1" y="199.8" text-anchor="middle">20</text>
<path d="M320.1 26.5h2.1M534.4 26.5h-2.1" stroke="#555" stroke-width="1"/>
<text class="k" x="315.90000000000003" y="31.8" text-anchor="end">20</text>
<path d="M320.1 65h2.1M534.4 65h-2.1" stroke="#555" stroke-width="1"/>
<text class="k" x="315.90000000000003" y="70.3" text-anchor="end">15</text>
<path d="M320.1 103.5h2.1M534.4 103.5h-2.1" stroke="#555" stroke-width="1"/>
<text class="k" x="315.90000000000003" y="108.8" text-anchor="end">10</text>
<path d="M320.1 142h2.1M534.4 142h-2.1" stroke="#555" stroke-width="1"/>
<text class="k" x="315.90000000000003" y="147.3" text-anchor="end">5</text>
<path d="M320.1 180.3h2.1M534.4 180.3h-2.1" stroke="#555" stroke-width="1"/>
<text class="k" x="315.90000000000003" y="185.60000000000002" text-anchor="end">0</text>
<text class="t" x="427" y="20.1" text-anchor="middle">Sampling Designs</text>
<text class="l" x="425.75" y="218.9" text-anchor="end">f</text><text class="s" x="426.85" y="225.4">1</text>
<g transform="translate(286.4 103.4) rotate(-90)"><text class="l" x="-1" y="0" text-anchor="end">f</text><text class="s" x="-0.5" y="7.2">2</text></g>
<path d="M334.6 41.5 L337.6 48.9 L340.6 55.5 L343.5 61.5 L346.5 67.0 L349.5 72.1 L352.5 76.8 L355.5 81.2 L358.5 85.3 L361.5 89.2 L364.5 92.8 L367.5 96.3 L370.5 99.6 L373.5 102.7 L376.5 105.7 L379.5 108.6 L382.5 111.3 L385.4 113.9 L388.4 116.4 L391.4 118.8 L394.4 121.2 L397.4 123.4 L400.4 125.5 L403.4 127.6 L406.4 129.6 L409.4 131.5 L412.4 133.3 L415.4 135.1 L418.4 136.8 L421.4 138.5 L424.4 140.1 L427.3 141.6 L430.3 143.1 L433.3 144.6 L436.3 146.0 L439.3 147.4 L442.3 148.7 L445.3 150.0 L448.3 151.2 L451.3 152.4 L454.3 153.5 L457.3 154.7 L460.3 155.7 L463.3 156.8 L466.3 157.8 L469.2 158.8 L472.2 159.7 L475.2 160.7 L478.2 161.6 L481.2 162.4 L484.2 163.3 L487.2 164.1 L490.2 164.8 L493.2 165.6 L496.2 166.3 L499.2 167.0 L502.2 167.7 L505.2 168.4 L508.2 169.0 L511.1 169.6" fill="none" stroke="#FF0000" stroke-width="2.4" stroke-linecap="round" stroke-linejoin="round"/>
<circle cx="363.5" cy="85.2" r="1.4" fill="#FF0000"/>
<circle cx="475.2" cy="150.5" r="1.4" fill="#FF0000"/>
<circle cx="364.6" cy="94" r="1.1" fill="#FF0000"/>
<circle cx="366.5" cy="96.5" r="1.0" fill="#FF0000"/>
<circle cx="385.3" cy="111" r="1.0" fill="#FF0000"/>
<circle cx="388" cy="115" r="1.0" fill="#FF0000"/>
<rect x="501.9" y="29.5" width="27.6" height="26" fill="#fff"/>
<text class="p" style="letter-spacing:0.5px" x="519.1" y="47.4" text-anchor="middle">(b)</text>
<rect x="39.3" y="254" width="213.10000000000002" height="153.8" fill="none" stroke="#7a7a7a" stroke-width="1.8"/>
<path d="M55.6 407.8v-2.1M55.6 254v2.1" stroke="#555" stroke-width="1"/>
 <text class="k" x="56.7" y="427.3" text-anchor="middle">0.5</text>
<path d="M146.6 407.8v-2.1M146.6 254v2.1" stroke="#555" stroke-width="1"/>
 <text class="k" x="147.7" y="427.3" text-anchor="middle">1</text>
<path d="M237.6 407.8v-2.1M237.6 254v2.1" stroke="#555" stroke-width="1"/>
 <text class="k" x="238.7" y="427.3" text-anchor="middle">1.5</text>
<path d="M39.3 254.0h2.1M252.4 254.0h-2.1" stroke="#555" stroke-width="1"/>
<text class="k" x="35.099999999999994" y="259.3" text-anchor="end">5</text>
<path d="M39.3 305.3h2.1M252.4 305.3h-2.1" stroke="#555" stroke-width="1"/>
<text class="k" x="35.099999999999994" y="310.6" text-anchor="end">4</text>
<path d="M39.3 356.7h2.1M252.4 356.7h-2.1" stroke="#555" stroke-width="1"/>
<text class="k" x="35.099999999999994" y="362.0" text-anchor="end">3</text>
<path d="M39.3 407.8h2.1M252.4 407.8h-2.1" stroke="#555" stroke-width="1"/>
<text class="k" x="35.099999999999994" y="413.1" text-anchor="end">2</text>
<text class="t" x="146" y="247.6" text-anchor="middle">Coordinates of Pareto Designs</text>
<text class="l" x="145.15" y="446.40000000000003" text-anchor="end">x</text><text class="s" x="146.45" y="452.90000000000003">1</text>
<g transform="translate(13.6 330.9) rotate(-90)"><text class="l" x="-1" y="0" text-anchor="end">x</text><text class="s" x="0.0" y="7.2">2</text></g>
<circle cx="39.8" cy="259.1" r="1.45" fill="#0072BD"/>
<circle cx="41.5" cy="258.1" r="1.45" fill="#7E2F8E"/>
<circle cx="42.4" cy="259.4" r="1.45" fill="#77AC30"/>
<circle cx="41.2" cy="261.8" r="1.45" fill="#4DBEEE"/>
<circle cx="40.5" cy="262.8" r="1.45" fill="#0072BD"/>
<circle cx="44.7" cy="261.3" r="1.45" fill="#A2142F"/>
<circle cx="45.4" cy="263.3" r="1.45" fill="#D95319"/>
<circle cx="42.9" cy="267.7" r="1.45" fill="#EDB120"/>
<circle cx="46.1" cy="268.2" r="1.45" fill="#0072BD"/>
<circle cx="48.8" cy="258.9" r="1.45" fill="#77AC30"/>
<circle cx="50.8" cy="258.9" r="1.45" fill="#7E2F8E"/>
<circle cx="51.8" cy="257.9" r="1.45" fill="#D95319"/>
<circle cx="50.0" cy="260.9" r="1.45" fill="#7E2F8E"/>
<circle cx="48.8" cy="262.3" r="1.45" fill="#A2142F"/>
<circle cx="50.8" cy="262.8" r="1.45" fill="#77AC30"/>
<circle cx="48.8" cy="265.3" r="1.45" fill="#0072BD"/>
<circle cx="50.6" cy="266.0" r="1.45" fill="#0072BD"/>
<circle cx="49.3" cy="269.7" r="1.45" fill="#0072BD"/>
<circle cx="52.7" cy="259.4" r="1.45" fill="#7E2F8E"/>
<circle cx="54.7" cy="262.3" r="1.45" fill="#D95319"/>
<circle cx="57.5" cy="259.4" r="1.45" fill="#4DBEEE"/>
<circle cx="59.8" cy="260.1" r="1.45" fill="#D95319"/>
<circle cx="63.3" cy="258.1" r="1.45" fill="#77AC30"/>
<circle cx="62.1" cy="258.9" r="1.45" fill="#4DBEEE"/>
<circle cx="59.1" cy="263.8" r="1.45" fill="#7E2F8E"/>
<circle cx="58.1" cy="267.2" r="1.45" fill="#7E2F8E"/>
<circle cx="56.2" cy="268.7" r="1.45" fill="#7E2F8E"/>
<circle cx="59.8" cy="268.7" r="1.45" fill="#A2142F"/>
<circle cx="54.5" cy="270.7" r="1.45" fill="#7E2F8E"/>
<circle cx="51.3" cy="271.7" r="1.45" fill="#D95319"/>
<circle cx="54.7" cy="272.1" r="1.45" fill="#D95319"/>
<circle cx="49.6" cy="273.1" r="1.45" fill="#EDB120"/>
<circle cx="54.5" cy="274.1" r="1.45" fill="#EDB120"/>
<circle cx="45.4" cy="272.6" r="1.45" fill="#77AC30"/>
<circle cx="44.9" cy="274.4" r="1.45" fill="#4DBEEE"/>
<circle cx="66.7" cy="262.0" r="1.45" fill="#D95319"/>
<circle cx="64.5" cy="264.3" r="1.45" fill="#4DBEEE"/>
<circle cx="63.7" cy="267.2" r="1.45" fill="#77AC30"/>
<circle cx="71.2" cy="264.0" r="1.45" fill="#A2142F"/>
<circle cx="68.3" cy="266.3" r="1.45" fill="#D95319"/>
<circle cx="70.9" cy="266.5" r="1.45" fill="#0072BD"/>
<circle cx="68.0" cy="268.5" r="1.45" fill="#77AC30"/>
<circle cx="70.6" cy="268.2" r="1.45" fill="#7E2F8E"/>
<circle cx="72.9" cy="268.9" r="1.45" fill="#A2142F"/>
<circle cx="63.1" cy="271.7" r="1.45" fill="#7E2F8E"/>
<circle cx="63.1" cy="274.1" r="1.45" fill="#0072BD"/>
<circle cx="74.1" cy="271.7" r="1.45" fill="#0072BD"/>
<circle cx="75.3" cy="273.1" r="1.45" fill="#0072BD"/>
<circle cx="72.4" cy="273.6" r="1.45" fill="#7E2F8E"/>
<circle cx="79.1" cy="270.7" r="1.45" fill="#4DBEEE"/>
<circle cx="81.4" cy="274.6" r="1.45" fill="#0072BD"/>
<circle cx="68.0" cy="275.1" r="1.45" fill="#7E2F8E"/>
<circle cx="68.5" cy="277.1" r="1.45" fill="#A2142F"/>
<circle cx="68.3" cy="279.5" r="1.45" fill="#D95319"/>
<circle cx="53.9" cy="279.0" r="1.45" fill="#4DBEEE"/>
<circle cx="64.5" cy="280.3" r="1.45" fill="#0072BD"/>
<circle cx="64.7" cy="282.0" r="1.45" fill="#77AC30"/>
<circle cx="59.4" cy="282.5" r="1.45" fill="#4DBEEE"/>
<circle cx="70.6" cy="281.5" r="1.45" fill="#0072BD"/>
<circle cx="72.6" cy="283.2" r="1.45" fill="#A2142F"/>
<circle cx="67.5" cy="284.6" r="1.45" fill="#D95319"/>
<circle cx="55.7" cy="285.6" r="1.45" fill="#D95319"/>
<circle cx="61.6" cy="287.2" r="1.45" fill="#0072BD"/>
<circle cx="61.8" cy="290.8" r="1.45" fill="#EDB120"/>
<circle cx="88.6" cy="276.1" r="1.45" fill="#4DBEEE"/>
<circle cx="87.6" cy="280.3" r="1.45" fill="#7E2F8E"/>
<circle cx="92.5" cy="278.7" r="1.45" fill="#EDB120"/>
<circle cx="79.3" cy="282.0" r="1.45" fill="#EDB120"/>
<circle cx="81.4" cy="281.7" r="1.45" fill="#D95319"/>
<circle cx="82.4" cy="284.4" r="1.45" fill="#A2142F"/>
<circle cx="89.1" cy="282.9" r="1.45" fill="#4DBEEE"/>
<circle cx="89.6" cy="284.9" r="1.45" fill="#4DBEEE"/>
<circle cx="86.1" cy="286.9" r="1.45" fill="#EDB120"/>
<circle cx="84.4" cy="286.9" r="1.45" fill="#0072BD"/>
<circle cx="75.8" cy="286.9" r="1.45" fill="#4DBEEE"/>
<circle cx="78.3" cy="288.3" r="1.45" fill="#77AC30"/>
<circle cx="74.3" cy="290.5" r="1.45" fill="#A2142F"/>
<circle cx="79.3" cy="291.3" r="1.45" fill="#4DBEEE"/>
<circle cx="92.8" cy="285.4" r="1.45" fill="#4DBEEE"/>
<circle cx="94.5" cy="273.6" r="1.45" fill="#4DBEEE"/>
<circle cx="102.1" cy="281.0" r="1.45" fill="#A2142F"/>
<circle cx="105.8" cy="284.4" r="1.45" fill="#0072BD"/>
<circle cx="94.0" cy="286.2" r="1.45" fill="#EDB120"/>
<circle cx="95.5" cy="288.5" r="1.45" fill="#A2142F"/>
<circle cx="107.7" cy="289.3" r="1.45" fill="#EDB120"/>
<circle cx="99.4" cy="291.1" r="1.45" fill="#EDB120"/>
<circle cx="101.6" cy="291.3" r="1.45" fill="#77AC30"/>
<circle cx="107.2" cy="291.5" r="1.45" fill="#77AC30"/>
<circle cx="67.5" cy="294.2" r="1.45" fill="#EDB120"/>
<circle cx="83.7" cy="296.1" r="1.45" fill="#4DBEEE"/>
<circle cx="91.0" cy="297.4" r="1.45" fill="#EDB120"/>
<circle cx="89.9" cy="299.4" r="1.45" fill="#77AC30"/>
<circle cx="78.8" cy="302.1" r="1.45" fill="#7E2F8E"/>
<circle cx="90.5" cy="305.3" r="1.45" fill="#4DBEEE"/>
<circle cx="87.8" cy="307.0" r="1.45" fill="#77AC30"/>
<circle cx="83.9" cy="322.9" r="1.45" fill="#EDB120"/>
<circle cx="88.1" cy="321.7" r="1.45" fill="#A2142F"/>
<circle cx="94.5" cy="293.2" r="1.45" fill="#D95319"/>
<circle cx="104.8" cy="294.2" r="1.45" fill="#D95319"/>
<circle cx="112.9" cy="293.8" r="1.45" fill="#0072BD"/>
<circle cx="118.7" cy="294.9" r="1.45" fill="#EDB120"/>
<circle cx="116.1" cy="296.9" r="1.45" fill="#A2142F"/>
<circle cx="118.7" cy="296.7" r="1.45" fill="#0072BD"/>
<circle cx="123.4" cy="293.8" r="1.45" fill="#D95319"/>
<circle cx="100.9" cy="297.4" r="1.45" fill="#4DBEEE"/>
<circle cx="112.4" cy="298.7" r="1.45" fill="#EDB120"/>
<circle cx="113.4" cy="300.1" r="1.45" fill="#0072BD"/>
<circle cx="117.3" cy="302.8" r="1.45" fill="#77AC30"/>
<circle cx="100.4" cy="302.8" r="1.45" fill="#EDB120"/>
<circle cx="102.0" cy="306.5" r="1.45" fill="#4DBEEE"/>
<circle cx="116.1" cy="306.5" r="1.45" fill="#0072BD"/>
<circle cx="116.4" cy="310.2" r="1.45" fill="#0072BD"/>
<circle cx="107.9" cy="312.3" r="1.45" fill="#0072BD"/>
<circle cx="113.8" cy="312.8" r="1.45" fill="#7E2F8E"/>
<circle cx="96.4" cy="316.3" r="1.45" fill="#77AC30"/>
<circle cx="105.8" cy="317.0" r="1.45" fill="#4DBEEE"/>
<circle cx="106.5" cy="319.0" r="1.45" fill="#D95319"/>
<circle cx="109.2" cy="318.3" r="1.45" fill="#7E2F8E"/>
<circle cx="116.6" cy="316.3" r="1.45" fill="#D95319"/>
<circle cx="107.9" cy="322.9" r="1.45" fill="#4DBEEE"/>
<circle cx="110.9" cy="322.9" r="1.45" fill="#77AC30"/>
<circle cx="115.6" cy="324.4" r="1.45" fill="#EDB120"/>
<circle cx="123.6" cy="303.0" r="1.45" fill="#EDB120"/>
<circle cx="123.2" cy="305.3" r="1.45" fill="#A2142F"/>
<circle cx="123.2" cy="307.7" r="1.45" fill="#7E2F8E"/>
<circle cx="127.2" cy="306.5" r="1.45" fill="#4DBEEE"/>
<circle cx="129.8" cy="308.2" r="1.45" fill="#4DBEEE"/>
<circle cx="127.2" cy="309.9" r="1.45" fill="#7E2F8E"/>
<circle cx="123.9" cy="312.8" r="1.45" fill="#A2142F"/>
<circle cx="123.9" cy="314.8" r="1.45" fill="#D95319"/>
<circle cx="127.2" cy="314.6" r="1.45" fill="#D95319"/>
<circle cx="127.9" cy="319.0" r="1.45" fill="#D95319"/>
<circle cx="124.6" cy="322.9" r="1.45" fill="#4DBEEE"/>
<circle cx="124.9" cy="325.9" r="1.45" fill="#7E2F8E"/>
<circle cx="129.1" cy="300.3" r="1.45" fill="#0072BD"/>
<circle cx="131.8" cy="299.4" r="1.45" fill="#A2142F"/>
<circle cx="134.0" cy="298.1" r="1.45" fill="#7E2F8E"/>
<circle cx="138.0" cy="310.2" r="1.45" fill="#A2142F"/>
<circle cx="146.5" cy="310.7" r="1.45" fill="#0072BD"/>
<circle cx="136.2" cy="317.7" r="1.45" fill="#EDB120"/>
<circle cx="143.9" cy="319.7" r="1.45" fill="#4DBEEE"/>
<circle cx="131.8" cy="323.6" r="1.45" fill="#EDB120"/>
<circle cx="136.7" cy="324.9" r="1.45" fill="#7E2F8E"/>
<circle cx="132.8" cy="326.9" r="1.45" fill="#4DBEEE"/>
<circle cx="134.7" cy="326.4" r="1.45" fill="#77AC30"/>
<circle cx="141.1" cy="328.3" r="1.45" fill="#D95319"/>
<circle cx="114.1" cy="330.1" r="1.45" fill="#0072BD"/>
<circle cx="116.6" cy="329.1" r="1.45" fill="#EDB120"/>
<circle cx="119.0" cy="329.1" r="1.45" fill="#EDB120"/>
<circle cx="133.1" cy="330.8" r="1.45" fill="#EDB120"/>
<circle cx="146.5" cy="330.8" r="1.45" fill="#77AC30"/>
<circle cx="157.3" cy="313.4" r="1.45" fill="#D95319"/>
<circle cx="165.5" cy="315.8" r="1.45" fill="#A2142F"/>
<circle cx="153.7" cy="321.9" r="1.45" fill="#7E2F8E"/>
<circle cx="157.0" cy="325.9" r="1.45" fill="#EDB120"/>
<circle cx="148.8" cy="328.1" r="1.45" fill="#EDB120"/>
<circle cx="165.4" cy="325.4" r="1.45" fill="#D95319"/>
<circle cx="165.0" cy="326.9" r="1.45" fill="#0072BD"/>
<circle cx="171.7" cy="326.6" r="1.45" fill="#A2142F"/>
<circle cx="184.0" cy="326.9" r="1.45" fill="#4DBEEE"/>
<circle cx="168.6" cy="329.5" r="1.45" fill="#0072BD"/>
<circle cx="153.9" cy="330.8" r="1.45" fill="#D95319"/>
<circle cx="137.7" cy="334.4" r="1.45" fill="#A2142F"/>
<circle cx="144.8" cy="336.4" r="1.45" fill="#0072BD"/>
<circle cx="144.1" cy="348.7" r="1.45" fill="#77AC30"/>
<circle cx="146.5" cy="357.0" r="1.45" fill="#EDB120"/>
<circle cx="148.2" cy="334.7" r="1.45" fill="#0072BD"/>
<circle cx="154.1" cy="334.4" r="1.45" fill="#4DBEEE"/>
<circle cx="151.1" cy="338.1" r="1.45" fill="#A2142F"/>
<circle cx="153.4" cy="338.4" r="1.45" fill="#7E2F8E"/>
<circle cx="148.2" cy="341.3" r="1.45" fill="#0072BD"/>
<circle cx="152.1" cy="343.8" r="1.45" fill="#4DBEEE"/>
<circle cx="154.1" cy="343.3" r="1.45" fill="#7E2F8E"/>
<circle cx="154.1" cy="346.2" r="1.45" fill="#A2142F"/>
<circle cx="157.6" cy="346.2" r="1.45" fill="#EDB120"/>
<circle cx="160.5" cy="345.9" r="1.45" fill="#4DBEEE"/>
<circle cx="152.1" cy="349.4" r="1.45" fill="#D95319"/>
<circle cx="149.2" cy="351.8" r="1.45" fill="#4DBEEE"/>
<circle cx="147.5" cy="357.0" r="1.45" fill="#EDB120"/>
<circle cx="155.8" cy="358.3" r="1.45" fill="#A2142F"/>
<circle cx="160.1" cy="353.8" r="1.45" fill="#EDB120"/>
<circle cx="165.5" cy="352.1" r="1.45" fill="#77AC30"/>
<circle cx="158.3" cy="337.1" r="1.45" fill="#D95319"/>
<circle cx="161.7" cy="336.4" r="1.45" fill="#0072BD"/>
<circle cx="162.2" cy="335.1" r="1.45" fill="#77AC30"/>
<circle cx="165.0" cy="333.5" r="1.45" fill="#A2142F"/>
<circle cx="171.3" cy="334.1" r="1.45" fill="#0072BD"/>
<circle cx="159.8" cy="338.9" r="1.45" fill="#4DBEEE"/>
<circle cx="164.7" cy="342.8" r="1.45" fill="#7E2F8E"/>
<circle cx="167.1" cy="345.7" r="1.45" fill="#4DBEEE"/>
<circle cx="172.0" cy="347.5" r="1.45" fill="#4DBEEE"/>
<circle cx="173.7" cy="346.0" r="1.45" fill="#D95319"/>
<circle cx="176.2" cy="344.0" r="1.45" fill="#77AC30"/>
<circle cx="175.0" cy="349.5" r="1.45" fill="#A2142F"/>
<circle cx="179.4" cy="349.7" r="1.45" fill="#D95319"/>
<circle cx="178.2" cy="352.1" r="1.45" fill="#A2142F"/>
<circle cx="171.3" cy="353.1" r="1.45" fill="#EDB120"/>
<circle cx="170.1" cy="356.0" r="1.45" fill="#7E2F8E"/>
<circle cx="169.1" cy="358.5" r="1.45" fill="#A2142F"/>
<circle cx="177.4" cy="355.1" r="1.45" fill="#7E2F8E"/>
<circle cx="179.2" cy="357.5" r="1.45" fill="#D95319"/>
<circle cx="178.4" cy="337.1" r="1.45" fill="#77AC30"/>
<circle cx="180.9" cy="335.4" r="1.45" fill="#A2142F"/>
<circle cx="181.9" cy="339.1" r="1.45" fill="#D95319"/>
<circle cx="182.3" cy="340.6" r="1.45" fill="#D95319"/>
<circle cx="183.3" cy="346.7" r="1.45" fill="#D95319"/>
<circle cx="187.1" cy="346.9" r="1.45" fill="#EDB120"/>
<circle cx="196.4" cy="339.8" r="1.45" fill="#A2142F"/>
<circle cx="199.8" cy="336.1" r="1.45" fill="#D95319"/>
<circle cx="195.6" cy="347.9" r="1.45" fill="#77AC30"/>
<circle cx="184.1" cy="358.0" r="1.45" fill="#7E2F8E"/>
<circle cx="188.4" cy="360.0" r="1.45" fill="#7E2F8E"/>
<circle cx="191.0" cy="357.0" r="1.45" fill="#77AC30"/>
<circle cx="192.4" cy="359.3" r="1.45" fill="#0072BD"/>
<circle cx="175.3" cy="362.6" r="1.45" fill="#0072BD"/>
<circle cx="180.9" cy="361.2" r="1.45" fill="#77AC30"/>
<circle cx="181.4" cy="362.9" r="1.45" fill="#77AC30"/>
<circle cx="178.9" cy="364.2" r="1.45" fill="#77AC30"/>
<circle cx="183.3" cy="365.6" r="1.45" fill="#7E2F8E"/>
<circle cx="189.0" cy="367.1" r="1.45" fill="#77AC30"/>
<circle cx="194.9" cy="365.6" r="1.45" fill="#4DBEEE"/>
<circle cx="196.1" cy="368.1" r="1.45" fill="#D95319"/>
<circle cx="200.0" cy="357.0" r="1.45" fill="#0072BD"/>
<circle cx="200.0" cy="359.7" r="1.45" fill="#A2142F"/>
<circle cx="160.1" cy="367.3" r="1.45" fill="#D95319"/>
<circle cx="163.7" cy="366.5" r="1.45" fill="#4DBEEE"/>
<circle cx="177.9" cy="369.5" r="1.45" fill="#EDB120"/>
<circle cx="190.7" cy="369.5" r="1.45" fill="#0072BD"/>
<circle cx="205.9" cy="345.5" r="1.45" fill="#7E2F8E"/>
<circle cx="207.4" cy="350.1" r="1.45" fill="#D95319"/>
<circle cx="208.4" cy="351.4" r="1.45" fill="#4DBEEE"/>
<circle cx="207.4" cy="361.2" r="1.45" fill="#7E2F8E"/>
<circle cx="205.4" cy="363.6" r="1.45" fill="#A2142F"/>
<circle cx="214.5" cy="364.6" r="1.45" fill="#A2142F"/>
<circle cx="213.6" cy="365.6" r="1.45" fill="#77AC30"/>
<circle cx="207.4" cy="368.3" r="1.45" fill="#EDB120"/>
<circle cx="232.6" cy="367.8" r="1.45" fill="#A2142F"/>
<circle cx="223.6" cy="369.6" r="1.45" fill="#A2142F"/>
<circle cx="174.8" cy="370.8" r="1.45" fill="#4DBEEE"/>
<circle cx="179.6" cy="371.2" r="1.45" fill="#A2142F"/>
<circle cx="173.7" cy="374.1" r="1.45" fill="#EDB120"/>
<circle cx="176.2" cy="373.7" r="1.45" fill="#A2142F"/>
<circle cx="188.2" cy="371.8" r="1.45" fill="#EDB120"/>
<circle cx="196.6" cy="370.5" r="1.45" fill="#7E2F8E"/>
<circle cx="195.3" cy="374.7" r="1.45" fill="#77AC30"/>
<circle cx="197.6" cy="377.7" r="1.45" fill="#0072BD"/>
<circle cx="196.1" cy="379.0" r="1.45" fill="#77AC30"/>
<circle cx="188.5" cy="381.3" r="1.45" fill="#EDB120"/>
<circle cx="192.9" cy="383.7" r="1.45" fill="#7E2F8E"/>
<circle cx="200.8" cy="379.3" r="1.45" fill="#4DBEEE"/>
<circle cx="203.5" cy="372.2" r="1.45" fill="#D95319"/>
<circle cx="208.4" cy="371.0" r="1.45" fill="#7E2F8E"/>
<circle cx="206.4" cy="370.8" r="1.45" fill="#EDB120"/>
<circle cx="208.1" cy="374.7" r="1.45" fill="#0072BD"/>
<circle cx="214.5" cy="372.5" r="1.45" fill="#7E2F8E"/>
<circle cx="204.4" cy="376.7" r="1.45" fill="#7E2F8E"/>
<circle cx="208.1" cy="378.1" r="1.45" fill="#A2142F"/>
<circle cx="202.0" cy="379.3" r="1.45" fill="#0072BD"/>
<circle cx="202.0" cy="382.6" r="1.45" fill="#77AC30"/>
<circle cx="210.3" cy="382.3" r="1.45" fill="#D95319"/>
<circle cx="213.8" cy="379.0" r="1.45" fill="#A2142F"/>
<circle cx="217.2" cy="381.6" r="1.45" fill="#4DBEEE"/>
<circle cx="207.4" cy="385.7" r="1.45" fill="#4DBEEE"/>
<circle cx="203.0" cy="390.6" r="1.45" fill="#EDB120"/>
<circle cx="214.3" cy="387.7" r="1.45" fill="#77AC30"/>
<circle cx="220.6" cy="387.5" r="1.45" fill="#A2142F"/>
<circle cx="220.9" cy="393.6" r="1.45" fill="#D95319"/>
<circle cx="212.3" cy="398.0" r="1.45" fill="#4DBEEE"/>
<circle cx="214.3" cy="403.2" r="1.45" fill="#A2142F"/>
<circle cx="222.1" cy="399.0" r="1.45" fill="#7E2F8E"/>
<circle cx="226.7" cy="397.5" r="1.45" fill="#4DBEEE"/>
<circle cx="223.6" cy="370.5" r="1.45" fill="#A2142F"/>
<circle cx="231.9" cy="371.2" r="1.45" fill="#77AC30"/>
<circle cx="224.6" cy="373.7" r="1.45" fill="#7E2F8E"/>
<circle cx="226.7" cy="374.7" r="1.45" fill="#77AC30"/>
<circle cx="228.5" cy="375.7" r="1.45" fill="#EDB120"/>
<circle cx="223.4" cy="378.8" r="1.45" fill="#77AC30"/>
<circle cx="226.7" cy="378.6" r="1.45" fill="#A2142F"/>
<circle cx="232.2" cy="381.3" r="1.45" fill="#D95319"/>
<circle cx="235.2" cy="382.3" r="1.45" fill="#A2142F"/>
<circle cx="229.7" cy="383.3" r="1.45" fill="#D95319"/>
<circle cx="226.3" cy="384.5" r="1.45" fill="#A2142F"/>
<circle cx="230.5" cy="385.2" r="1.45" fill="#D95319"/>
<circle cx="232.2" cy="384.7" r="1.45" fill="#77AC30"/>
<circle cx="226.3" cy="387.5" r="1.45" fill="#4DBEEE"/>
<circle cx="230.9" cy="388.5" r="1.45" fill="#7E2F8E"/>
<circle cx="232.9" cy="389.1" r="1.45" fill="#EDB120"/>
<circle cx="235.6" cy="388.5" r="1.45" fill="#D95319"/>
<circle cx="238.1" cy="390.6" r="1.45" fill="#EDB120"/>
<circle cx="237.8" cy="385.7" r="1.45" fill="#4DBEEE"/>
<circle cx="236.8" cy="378.3" r="1.45" fill="#EDB120"/>
<circle cx="237.5" cy="377.1" r="1.45" fill="#D95319"/>
<circle cx="246.0" cy="376.9" r="1.45" fill="#0072BD"/>
<circle cx="250.6" cy="388.2" r="1.45" fill="#EDB120"/>
<circle cx="243.4" cy="390.8" r="1.45" fill="#D95319"/>
<circle cx="223.8" cy="389.6" r="1.45" fill="#77AC30"/>
<circle cx="225.1" cy="391.6" r="1.45" fill="#0072BD"/>
<circle cx="227.5" cy="392.8" r="1.45" fill="#EDB120"/>
<circle cx="231.4" cy="391.8" r="1.45" fill="#0072BD"/>
<circle cx="230.0" cy="396.0" r="1.45" fill="#4DBEEE"/>
<circle cx="232.6" cy="396.3" r="1.45" fill="#EDB120"/>
<circle cx="237.8" cy="393.6" r="1.45" fill="#4DBEEE"/>
<circle cx="240.8" cy="395.3" r="1.45" fill="#EDB120"/>
<circle cx="244.2" cy="394.3" r="1.45" fill="#A2142F"/>
<circle cx="246.2" cy="395.7" r="1.45" fill="#A2142F"/>
<circle cx="243.2" cy="396.7" r="1.45" fill="#D95319"/>
<circle cx="243.2" cy="398.5" r="1.45" fill="#EDB120"/>
<circle cx="240.1" cy="399.0" r="1.45" fill="#77AC30"/>
<circle cx="234.4" cy="398.3" r="1.45" fill="#4DBEEE"/>
<circle cx="236.3" cy="399.5" r="1.45" fill="#7E2F8E"/>
<circle cx="248.9" cy="399.3" r="1.45" fill="#0072BD"/>
<circle cx="244.2" cy="400.9" r="1.45" fill="#4DBEEE"/>
<circle cx="252.5" cy="401.4" r="1.45" fill="#7E2F8E"/>
<circle cx="231.6" cy="402.2" r="1.45" fill="#0072BD"/>
<circle cx="236.8" cy="401.9" r="1.45" fill="#EDB120"/>
<circle cx="238.1" cy="402.9" r="1.45" fill="#77AC30"/>
<circle cx="243.4" cy="402.9" r="1.45" fill="#4DBEEE"/>
<circle cx="246.2" cy="403.4" r="1.45" fill="#D95319"/>
<circle cx="248.6" cy="403.2" r="1.45" fill="#EDB120"/>
<circle cx="252.5" cy="404.4" r="1.45" fill="#4DBEEE"/>
<rect x="220.9" y="259.9" width="27.6" height="26" fill="#fff"/>
<text class="p" style="letter-spacing:0.5px" x="238.1" y="277.79999999999995" text-anchor="middle">(c)</text>
<rect x="320.1" y="254" width="214.29999999999995" height="153.8" fill="none" stroke="#7a7a7a" stroke-width="1.8"/>
<path d="M320 407.8v-2.1M320 254v2.1" stroke="#555" stroke-width="1"/>
 <text class="k" x="321.1" y="427.3" text-anchor="middle">0</text>
<path d="M373.5 407.8v-2.1M373.5 254v2.1" stroke="#555" stroke-width="1"/>
 <text class="k" x="374.6" y="427.3" text-anchor="middle">5</text>
<path d="M427 407.8v-2.1M427 254v2.1" stroke="#555" stroke-width="1"/>
 <text class="k" x="428.1" y="427.3" text-anchor="middle">10</text>
<path d="M480.5 407.8v-2.1M480.5 254v2.1" stroke="#555" stroke-width="1"/>
 <text class="k" x="481.6" y="427.3" text-anchor="middle">15</text>
<path d="M534 407.8v-2.1M534 254v2.1" stroke="#555" stroke-width="1"/>
 <text class="k" x="535.1" y="427.3" text-anchor="middle">20</text>
<path d="M320.1 254.0h2.1M534.4 254.0h-2.1" stroke="#555" stroke-width="1"/>
<text class="k" x="315.90000000000003" y="259.3" text-anchor="end">20</text>
<path d="M320.1 292.5h2.1M534.4 292.5h-2.1" stroke="#555" stroke-width="1"/>
<text class="k" x="315.90000000000003" y="297.8" text-anchor="end">15</text>
<path d="M320.1 331.0h2.1M534.4 331.0h-2.1" stroke="#555" stroke-width="1"/>
<text class="k" x="315.90000000000003" y="336.3" text-anchor="end">10</text>
<path d="M320.1 369.5h2.1M534.4 369.5h-2.1" stroke="#555" stroke-width="1"/>
<text class="k" x="315.90000000000003" y="374.8" text-anchor="end">5</text>
<path d="M320.1 407.8h2.1M534.4 407.8h-2.1" stroke="#555" stroke-width="1"/>
<text class="k" x="315.90000000000003" y="413.1" text-anchor="end">0</text>
<text class="t" x="427" y="247.6" text-anchor="middle">Pareto Designs</text>
<text class="l" x="425.75" y="446.40000000000003" text-anchor="end">f</text><text class="s" x="426.85" y="452.90000000000003">1</text>
<g transform="translate(286.4 330.9) rotate(-90)"><text class="l" x="-1" y="0" text-anchor="end">f</text><text class="s" x="-0.5" y="7.2">2</text></g>
<path d="M334.6 269.0 L337.6 276.4 L340.6 283.0 L343.5 289.0 L346.5 294.5 L349.5 299.6 L352.5 304.3 L355.5 308.7 L358.5 312.8 L361.5 316.7 L364.5 320.3 L367.5 323.8 L370.5 327.1 L373.5 330.2 L376.5 333.2 L379.5 336.1 L382.5 338.8 L385.4 341.4 L388.4 343.9 L391.4 346.3 L394.4 348.7 L397.4 350.9 L400.4 353.0 L403.4 355.1 L406.4 357.1 L409.4 359.0 L412.4 360.8 L415.4 362.6 L418.4 364.3 L421.4 366.0 L424.4 367.6 L427.3 369.1 L430.3 370.6 L433.3 372.1 L436.3 373.5 L439.3 374.9 L442.3 376.2 L445.3 377.5 L448.3 378.7 L451.3 379.9 L454.3 381.0 L457.3 382.2 L460.3 383.2 L463.3 384.3 L466.3 385.3 L469.2 386.3 L472.2 387.2 L475.2 388.2 L478.2 389.1 L481.2 389.9 L484.2 390.8 L487.2 391.6 L490.2 392.3 L493.2 393.1 L496.2 393.8 L499.2 394.5 L502.2 395.2 L505.2 395.9 L508.2 396.5 L511.1 397.1" fill="none" stroke="#FF0000" stroke-width="10.2" stroke-linecap="round" stroke-linejoin="round"/>
<rect x="498.9" y="260.0" width="27.6" height="26" fill="#fff"/>
<text class="p" style="letter-spacing:1.25px" x="516.2875" y="277.9" text-anchor="middle">(d)</text>
</svg></body></html>
